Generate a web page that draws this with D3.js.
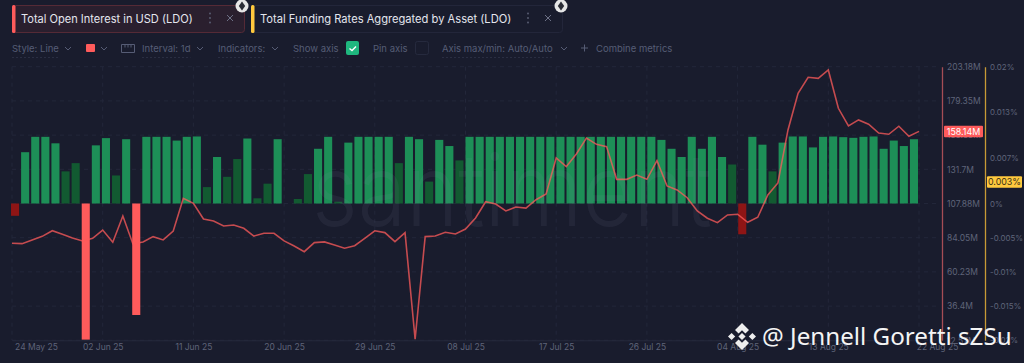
<!DOCTYPE html>
<html lang="en">

<head>
    <meta charset="UTF-8">
    <title>Total Open Interest and Funding Rates (LDO)</title>
    <script src="https://unpkg.com/d3@7.8.0/dist/d3.min.js"></script>
    <style>
        body {
            margin: 0px;
            background: #191c2d;
            overflow: hidden;
        }

        text {
            font-family: Inter, "Noto Sans", sans-serif;
        }
    </style>
</head>

<body>
    <script>
        // open interest in USD, millions, one per day from 24 May 25
        const openInterest = [
            80.2, 79.9, 82.5, 85.0, 88.9, 86.4, 83.9, 81.8, 83.6, 89.4,
            80.9, 99.2, 79.7, 81.1, 84.8, 82.5, 88.7, 111.5, 108.0, 97.1,
            95.7, 92.2, 92.9, 90.6, 85.2, 87.1, 87.1, 81.8, 78.3, 74.3,
            80.6, 81.1, 79.0, 76.7, 78.5, 83.6, 88.9, 87.6, 81.3, 87.6,
            13.3, 84.8, 85.2, 87.8, 86.6, 90.1, 97.8, 109.1, 107.5, 102.7,
            105.4, 104.7, 110.5, 114.5, 139.6, 133.5, 142.4, 153.5, 149.1, 147.5,
            124.7, 124.7, 127.7, 124.7, 137.7, 120.1, 117.3, 111.9, 102.7, 97.6,
            94.5, 99.9, 100.4, 94.8, 98.3, 113.8, 122.2, 159.1, 184.7, 195.8,
            195.1, 200.9, 174.2, 161.9, 166.1, 163.1, 157.0, 156.1, 161.7, 154.7,
            158.14
        ];

        // funding rate in percent, one per bar (0 = no visible bar)
        const fundingRates = [
            -0.0018, 0.0075, 0.00975, 0.00975, 0.0088, 0.0047, 0.0059, -0.0199, 0.0085, 0.00956,
            0.0041, 0.0094, -0.0163, 0.00975, 0.00975, 0.00975, 0.0092, 0.00975, 0.0098, 0.0024,
            0.0068, 0.0039, 0.0065, 0.0095, 0.00076, 0.0029, 0.0094, 0, 0.00066, 0.0043,
            0.008, 0.00975, 0.00026, 0.0089, 0.00975, 0.00975, 0.00975, 0.00975, 0.0059, 0.00975,
            0.0094, 0.0032, 0.0093, 0.0084, 0.0063, 0.00975, 0.00975, 0.00975, 0.00975, 0.00975,
            0.00975, 0.00975, 0.00975, 0.00975, 0.00975, 0.00975, 0.00975, 0.00975, 0.00975, 0.00975,
            0.00975, 0.00975, 0.00975, 0.00975, 0.0093, 0.008, 0.0068, 0.00975, 0.008, 0.00975,
            0.0068, 0.0057, -0.0045, 0.00975, 0.0086, 0.0047, 0.0089, 0.0098, 0.0098, 0.0082,
            0.00975, 0.0098, 0.0097, 0.0096, 0.00975, 0.0098, 0.008, 0.0092, 0.0084, 0.0094
        ];

        const dateTicks = ['2025-05-24', '2025-06-02', '2025-06-11', '2025-06-20', '2025-06-29',
            '2025-07-08', '2025-07-17', '2025-07-26', '2025-08-04', '2025-08-13', '2025-08-22'];
        const oiTicks = [203.18, 179.35, 155.53, 131.7, 107.88, 84.05, 60.23, 36.4, 12.57];
        const oiTickLabels = ['203.18M', '179.35M', '155.53M', '131.7M', '107.88M', '84.05M', '60.23M', '36.4M', '12.57M'];
        const fundingTicks = [0.02, 0.01333, 0.00667, 0, -0.005, -0.01, -0.015, -0.02];
        const fundingTickLabels = ['0.02%', '0.013%', '0.007%', '0%', '-0.005%', '-0.01%', '-0.015%', '-0.02%'];

        const width = 1024, height = 363;
        const plot = { left: 12, right: 919, top: 66.7, bottom: 340.3 };
        const tickFont = '8.5px';
        const tickFill = '#5f6479';

        const svg = d3.select('body').append('svg')
            .attr('width', width)
            .attr('height', height)
            .style('display', 'block');

        const parseDay = d3.utcParse('%Y-%m-%d');
        const formatDay = d3.utcFormat('%d %b %y');
        const startDay = parseDay(dateTicks[0]);
        const dayOf = i => d3.utcDay.offset(startDay, i);

        const x = d3.scaleUtc()
            .domain([startDay, parseDay(dateTicks[dateTicks.length - 1])])
            .range([plot.left, plot.right]);
        const xBars = d3.scaleBand()
            .domain(d3.range(fundingRates.length))
            .range([10, 919])
            .paddingInner(0.2)
            .paddingOuter(0.1);
        const yOi = d3.scaleLinear().domain([12.57, 203.18]).range([plot.bottom, plot.top]);
        const yFunding = d3.scaleLinear().domain([-0.02, 0.02]).range([plot.bottom, plot.top]);
        const barColor = d3.scaleThreshold()
            .domain([-0.01, 0, 0.00667])
            .range(['#ff5b5b', '#8e1515', '#125a31', '#1d8f57']);

        drawHeader();
        drawGrid();
        drawBars();
        drawWatermark();
        drawLine();
        drawAxes();
        drawFooter();

        function drawHeader() {
            const head = svg.append('g');
            chip(head, 12, 232, 'Total Open Interest in USD (LDO)', '#ff5b5b', '#2a1f2e', '#552a36', 210, 230, '11.05px');
            chip(head, 251, 311, 'Total Funding Rates Aggregated by Asset (LDO)', '#ffc93e', '#191c2d', '#23263a', 528, 548, '11.15px');
            badge(head, 242, 6);
            badge(head, 561, 6);

            const labels = [
                { t: 'Style: Line', x: 12 }, { t: 'Interval: 1d', x: 142 }, { t: 'Indicators:', x: 218 },
                { t: 'Show axis', x: 293 }, { t: 'Pin axis', x: 373 },
                { t: 'Axis max/min: Auto/Auto', x: 442 }, { t: 'Combine metrics', x: 596 }
            ];
            const items = head.selectAll('.tool').data(labels).enter().append('text')
                .attr('class', 'tool')
                .attr('x', d => d.x)
                .attr('y', 51.5)
                .attr('fill', '#565c75')
                .style('font-size', '9.5px')
                .text(d => d.t);
            items.each(function (d) {
                if (d.t === 'Pin axis' || d.t === 'Combine metrics') return;
                const w = this.getComputedTextLength();
                head.append('line')
                    .attr('x1', d.x).attr('x2', d.x + w)
                    .attr('y1', 57.5).attr('y2', 57.5)
                    .attr('stroke', '#2a2e42').attr('stroke-dasharray', '2,2');
            });

            // carets
            head.selectAll('.caret').data([68, 104, 200, 275, 564]).enter().append('path')
                .attr('class', 'caret')
                .attr('d', d => `M${d - 3},47 L${d},50 L${d + 3},47`)
                .attr('fill', 'none')
                .attr('stroke', '#565c75');

            head.append('rect').attr('x', 86).attr('y', 44).attr('width', 9).attr('height', 8).attr('rx', 1).attr('fill', '#ff5b5b');
            head.append('path').attr('d', 'M121.5,44.5 h13 v8 h-13 z M125,44.5 v3 M128,44.5 v3 M131,44.5 v3')
                .attr('fill', 'none').attr('stroke', '#565c75');
            head.append('rect').attr('x', 346).attr('y', 41).attr('width', 13).attr('height', 14).attr('rx', 2).attr('fill', '#1fb77f');
            head.append('path').attr('d', 'M349.5,48.5 l2.5,2 l4,-4').attr('fill', 'none').attr('stroke', '#fff').attr('stroke-width', 1.4);
            head.append('rect').attr('x', 415.5).attr('y', 41.5).attr('width', 13).attr('height', 13).attr('rx', 2)
                .attr('fill', 'none').attr('stroke', '#262a3e');
            head.append('path').attr('d', 'M581,48 h7 M584.5,44.5 v7').attr('stroke', '#565c75');
        }

        function chip(g, cx, w, label, accent, fill, stroke, dotsX, closeX, fontSize) {
            g.append('rect').attr('x', cx + 0.5).attr('y', 5.5).attr('width', w).attr('height', 27).attr('rx', 3)
                .attr('fill', fill).attr('stroke', stroke);
            g.append('rect').attr('x', cx).attr('y', 5).attr('width', 3.5).attr('height', 28).attr('rx', 1.5).attr('fill', accent);
            g.append('text').attr('x', cx + 9).attr('y', 22.5).attr('fill', '#e4e6ee')
                .style('font-size', fontSize).text(label);
            g.selectAll(null).data([13.5, 18, 22.5]).enter().append('circle')
                .attr('cx', dotsX).attr('cy', d => d).attr('r', 0.9).attr('fill', '#5d6277');
            g.append('path').attr('d', `M${closeX - 3},15 l6,6 M${closeX + 3},15 l-6,6`).attr('stroke', '#6d7186');
        }

        function badge(g, cx, cy) {
            g.append('circle').attr('cx', cx).attr('cy', cy).attr('r', 6.5).attr('fill', '#e6e6e6');
            g.append('path').attr('d', `M${cx},${cy - 4.5} L${cx + 3.2},${cy} L${cx},${cy + 4.5} L${cx - 3.2},${cy} Z`)
                .attr('fill', '#2a2c35');
        }

        function drawGrid() {
            const grid = svg.append('g').attr('stroke', '#23273a').attr('stroke-dasharray', '4,4');
            grid.selectAll('.gx').data(dateTicks).enter().append('line')
                .attr('x1', d => x(parseDay(d))).attr('x2', d => x(parseDay(d)))
                .attr('y1', plot.top).attr('y2', plot.bottom);
            grid.selectAll('.gy').data(oiTicks).enter().append('line')
                .attr('x1', plot.left).attr('x2', 940)
                .attr('y1', d => yOi(d)).attr('y2', d => yOi(d));
        }

        // sits above the bars, only a faint tint
        function drawWatermark() {
            svg.append('text')
                .attr('x', 312)
                .attr('y', 226)
                .attr('fill', '#8f95b5')
                .attr('fill-opacity', 0.09)
                .attr('textLength', 400)
                .attr('lengthAdjust', 'spacingAndGlyphs')
                .style('font-size', '100px')
                .style('font-weight', 300)
                .text('santiment');
        }

        function drawBars() {
            svg.append('g').selectAll('rect').data(fundingRates).enter().append('rect')
                .attr('x', (d, i) => xBars(i))
                .attr('width', xBars.bandwidth())
                .attr('y', d => Math.min(yFunding(d), yFunding(0)))
                .attr('height', d => Math.abs(yFunding(d) - yFunding(0)))
                .attr('fill', d => barColor(d));
        }

        function drawLine() {
            const line = d3.line()
                .x((d, i) => x(dayOf(i)))
                .y(d => yOi(d));
            svg.append('path')
                .datum(openInterest)
                .attr('d', line)
                .attr('fill', 'none')
                .attr('stroke', '#ff5b5b')
                .attr('stroke-opacity', 0.75)
                .attr('stroke-width', 1.6);
        }

        function drawAxes() {
            // x axis
            const xAxisG = svg.append('g')
                .attr('transform', `translate(0, ${plot.bottom})`)
                .call(d3.axisBottom(x).tickValues(dateTicks.map(parseDay)).tickFormat(formatDay).tickSize(0).tickPadding(4));
            xAxisG.select('.domain').attr('stroke', '#262a3d');
            xAxisG.selectAll('.tick text')
                .attr('fill', tickFill)
                .style('font-size', tickFont)
                .attr('dx', (d, i) => i === 0 ? 24 : i === dateTicks.length - 1 ? 18 : 0);

            // open interest axis
            const oiAxisG = svg.append('g')
                .attr('transform', 'translate(942, 0)')
                .call(d3.axisRight(yOi).tickValues(oiTicks).tickFormat((d, i) => oiTickLabels[i]).tickSize(0).tickPadding(5));
            oiAxisG.select('.domain').attr('stroke', '#a64d55').attr('stroke-width', 1.3);
            oiAxisG.selectAll('.tick text').attr('fill', tickFill).style('font-size', tickFont);

            // funding axis
            const fundingAxisG = svg.append('g')
                .attr('transform', 'translate(985, 0)')
                .call(d3.axisRight(yFunding).tickValues(fundingTicks).tickFormat((d, i) => fundingTickLabels[i]).tickSize(0).tickPadding(5));
            fundingAxisG.select('.domain').attr('stroke', '#c79a35').attr('stroke-width', 1.3);
            fundingAxisG.selectAll('.tick text').attr('fill', tickFill).style('font-size', '7.9px');

            // current value tags
            const lastOi = openInterest[openInterest.length - 1];
            svg.append('rect').attr('x', 944).attr('y', yOi(lastOi) - 5.7).attr('width', 39).attr('height', 11.5).attr('rx', 1).attr('fill', '#ff5b5b');
            svg.append('text').attr('x', 963.5).attr('y', yOi(lastOi) + 3.3).attr('text-anchor', 'middle')
                .attr('fill', '#fff').style('font-size', '8.9px').text(lastOi + 'M');

            svg.append('rect').attr('x', 987).attr('y', yFunding(0.00316) - 5.6).attr('width', 35).attr('height', 11.5).attr('rx', 1).attr('fill', '#ffc93e');
            svg.append('text').attr('x', 1004.5).attr('y', yFunding(0.00316) + 3.4).attr('text-anchor', 'middle')
                .attr('fill', '#3a3116').style('font-size', '8.9px').text('0.003%');
        }

        function drawFooter() {
            const g = svg.append('g');
            const logo = 'M742,323 l7,7 l-3.6,3.6 l-3.4,-3.4 l-3.4,3.4 l-3.6,-3.6 z ' +
                'M742,350 l-7,-7 l3.6,-3.6 l3.4,3.4 l3.4,-3.4 l3.6,3.6 z ' +
                'M728,336.5 l3.6,-3.6 l3.6,3.6 l-3.6,3.6 z M748.8,336.5 l3.6,-3.6 l3.6,3.6 l-3.6,3.6 z ' +
                'M742,332.9 l3.6,3.6 l-3.6,3.6 l-3.6,-3.6 z';
            g.append('path').attr('d', logo).attr('fill', '#eeeeee');
            g.append('text')
                .attr('x', 762)
                .attr('y', 345)
                .attr('fill', '#f4f4f4')
                .style('font-family', '"Noto Sans", sans-serif')
                .style('font-size', '24.2px')
                .text('@ Jennell Goretti sZSu');
        }
    </script>
</body>

</html>
